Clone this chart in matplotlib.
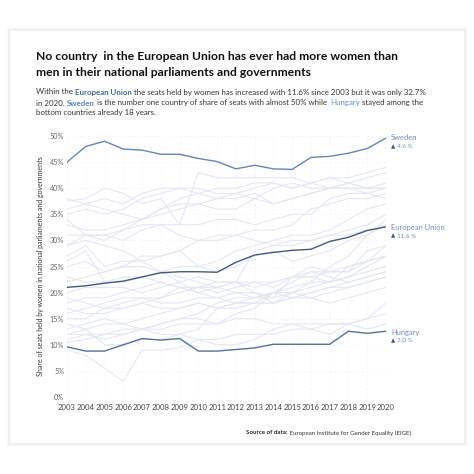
import numpy as np
import matplotlib
matplotlib.use("Agg")
import matplotlib.pyplot as plt
from matplotlib.patches import Rectangle

plt.rcParams['font.family'] = ['Lato', 'DejaVu Sans']

years = list(range(2003, 2021))

sweden = [45.0, 48.0, 49.0, 47.5, 47.3, 46.5, 46.5, 45.7, 45.1, 43.7, 44.4, 43.7, 43.6, 45.9, 46.1, 46.7, 47.6, 49.6]
eu = [21.0, 21.3, 21.8, 22.2, 23.0, 23.8, 24.0, 24.0, 23.9, 25.8, 27.2, 27.7, 28.1, 28.3, 29.8, 30.6, 31.9, 32.6]
hungary = [9.6, 8.8, 8.8, 10.0, 11.2, 10.9, 11.2, 8.8, 8.8, 9.1, 9.4, 10.1, 10.1, 10.1, 10.1, 12.6, 12.2, 12.6]

# other member states (grey background lines)
others = [
    [37.5, 38, 40, 39, 37, 38, 33, 43, 42, 42, 42, 42, 42, 41, 40, 40, 40, 40],
    [38, 37, 36, 35, 34, 36, 38, 39, 40, 40, 41, 41, 40, 41, 42, 42, 43, 44],
    [36, 37, 38, 37, 39, 40, 40, 40, 39, 39, 40, 41, 40, 41, 42, 41, 40, 40],
    [35, 36, 35, 36, 38, 39, 40, 39, 38, 39, 38, 37, 38, 39, 40, 41, 40, 41],
    [34, 31, 30, 32, 34, 35, 36, 37, 38, 38, 39, 37, 38, 39, 40, 40, 39, 40],
    [33, 32, 32, 33, 34, 36, 37, 37, 36, 36, 38, 40, 41, 40, 40, 41, 42, 43],
    [31, 31, 31, 32, 33, 33, 33, 33, 34, 34, 33, 34, 35, 35, 38, 39, 39, 38],
    [29, 31, 31, 30, 32, 33, 31, 30, 30, 31, 30, 29, 29, 30, 31, 32, 33, 35],
    [27, 29, 25, 26, 26, 27, 28, 30, 31, 31, 32, 32, 33, 36, 37, 38, 38, 39],
    [25, 26, 24, 25, 27, 27, 28, 25, 24, 25, 27, 28, 26, 27, 28, 30, 31, 33],
    [23, 22, 22, 23, 23, 24, 25, 25, 26, 28, 29, 30, 31, 31, 32, 34, 36, 37],
    [20, 21, 21, 21, 20, 21, 22, 23, 22, 22, 28, 29, 30, 30, 31, 31, 32, 33],
    [19, 18, 17, 18, 19, 19, 20, 21, 22, 22, 22, 21, 23, 23, 24, 25, 26, 27],
    [18, 19, 19, 20, 21, 22, 21, 21, 21, 22, 21, 22, 23, 23, 22, 23, 25, 27],
    [17, 16, 16, 17, 18, 19, 21, 21, 20, 21, 22, 22, 23, 24, 24, 24, 28, 29],
    [15, 15, 17, 17, 18, 17, 17, 18, 17, 17, 18, 18, 20, 22, 22, 25, 26, 29],
    [13, 14, 15, 14, 15, 16, 17, 18, 17, 18, 18, 20, 19, 19, 20, 21, 22, 23],
    [12, 13, 14, 14, 13, 12, 12, 13, 17, 18, 19, 20, 20, 19, 18, 19, 20, 21],
    [11, 12, 11, 12, 13, 14, 15, 15, 14, 16, 17, 20, 22, 24, 23, 22, 23, 24],
    [10.5, 11, 12, 12, 13, 14, 15, 16, 18, 19, 19, 20, 21, 22, 25, 27, 31, 34],
    [14, 13, 10, 10, 11, 11, 12, 11, 11, 12, 12, 12, 13, 13, 14, 14, 15, 16],
    [9, 8, 5.5, 3, 9, 9, 9.5, 11, 10, 10, 11, 13, 14, 13, 12, 14, 15, 18],
    [12, 12, 12, 13, 13, 13, 14, 14, 14, 15, 15, 14, 14, 14, 14, 14, 13, 14],
    [16, 17, 18, 19, 19, 18, 18, 19, 19, 20, 20, 18, 19, 20, 21, 21, 22, 23],
    [22, 23, 24, 25, 25, 24, 23, 22, 21, 20, 19, 19, 20, 21, 22, 23, 24, 25],
    [26, 28, 22, 22, 23, 22, 21, 20, 21, 22, 20, 19, 23, 25, 24, 24, 26, 27],
    [29, 30, 29, 28, 26, 24, 22, 20, 19, 18, 18, 18, 19, 20, 21, 22, 23, 24],
]

W = H = 474.0


def fx(px):
    return px / W


def fy(py):
    return 1 - py / H


fig = plt.figure(figsize=(4.74, 4.74), dpi=100)
fig.patch.set_facecolor('white')

# card with soft shadow
for i, c in enumerate(['#f6f6f6', '#eeeeee']):
    fig.patches.append(Rectangle((fx(10 - 2 + i), fy(443 + 2 - i)), fx(454 + 4 - 2 * i), (412 + 4 - 2 * i) / H,
                                 transform=fig.transFigure, facecolor='none', edgecolor=c, lw=1.2, zorder=-2))
fig.patches.append(Rectangle((fx(10), fy(443)), fx(454), 412 / H, transform=fig.transFigure,
                             facecolor='white', edgecolor='none', zorder=-1))

ax = fig.add_axes([fx(67), fy(397), fx(386 - 67), (397 - 136) / H])
ax.set_facecolor('none')
ax.set_zorder(2)

for s in others:
    ax.plot(years, s, color='#e2e6f2', lw=0.75, zorder=2)
ax.plot(years, sweden, color='#5f88b3', lw=1.0, zorder=4)
ax.plot(years, eu, color='#3f5b7c', lw=1.0, zorder=4)
ax.plot(years, hungary, color='#4f739a', lw=1.0, zorder=4)

ax.set_xlim(2003, 2020)
ax.set_ylim(0, 50)
ax.set_xticks(years)
ax.set_yticks(range(0, 51, 5))
ax.set_yticklabels(['%d%%' % v for v in range(0, 51, 5)])
ax.tick_params(axis='both', length=0, labelsize=5.2, labelcolor='#666666')
ax.tick_params(axis='y', pad=2)
ax.tick_params(axis='x', pad=5, labelsize=5.6, labelcolor='#444444')
ax.grid(True, color='#e8e8e8', lw=0.6, linestyle=(0, (1, 4)), zorder=1)
for sp in ax.spines.values():
    sp.set_visible(False)
ax.set_ylabel('Share of seats held by women in national parliaments and governments',
              fontsize=5, color='#333333', labelpad=4)

# end labels
lab_col = '#6b90ba'
for name, y1, y2, chg in [('Sweden', 138, 147, '4.6 %'), ('European Union', 227, 236, '11.6 %'),
                          ('Hungary', 332, 341, '3.0 %')]:
    fig.text(fx(391), fy(y1), name, fontsize=5.4, color=lab_col, va='center')
    fig.text(fx(391), fy(y2), '\u25b2', fontsize=4, color='#3f5b7c', va='center', family='DejaVu Sans')
    fig.text(fx(397), fy(y2), chg, fontsize=4.6, color=lab_col, va='center')

# title
fig.text(fx(36), fy(57), 'No country  in the European Union has ever had more women than',
         fontsize=8.7, fontweight='bold', color='#111111', va='center')
fig.text(fx(36), fy(73), 'men in their national parliaments and governments',
         fontsize=8.7, fontweight='bold', color='#111111', va='center')

renderer = fig.canvas.get_renderer()


def text_width(txt, size, weight):
    # measure with guard characters so leading/trailing spaces count
    a = fig.text(0, 0, 'x' + txt + 'x', fontsize=size, fontweight=weight)
    b = fig.text(0, 0, 'xx', fontsize=size, fontweight=weight)
    w = a.get_window_extent(renderer).width - b.get_window_extent(renderer).width
    a.remove()
    b.remove()
    return w


def rich_line(px, py, parts, size=5.7):
    x = px
    for txt, color, weight in parts:
        fig.text(fx(x), fy(py), txt, fontsize=size, color=color, fontweight=weight, va='center')
        x += text_width(txt, size, weight)


dark = '#333333'
rich_line(36, 92, [('Within the ', dark, 'normal'), ('European Union', '#3f6a99', 'bold'),
                   (' the seats held by women has increased with 11.6% since 2003 but it was only 32.7%', dark, 'normal')])
rich_line(36, 103, [('in 2020. ', dark, 'normal'), ('Sweden', '#4f86bf', 'bold'),
                    (' is the number one country of share of seats with almost 50% while  ', dark, 'normal'),
                    ('Hungary', '#5b8fc6', 'normal'), (' stayed among the', dark, 'normal')])
rich_line(36, 113, [('bottom countries already 18 years.', dark, 'normal')])

# source
rich_line(246, 433, [('Source of data:', '#222222', 'bold'),
                     (' European Institute for Gender Equality (EIGE)', '#333333', 'normal')], size=4.4)

fig.savefig('out.png', dpi=100, facecolor='white')
